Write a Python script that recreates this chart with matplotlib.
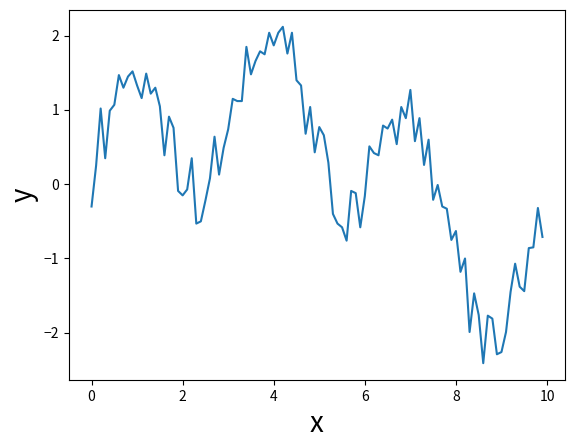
import numpy as np
import matplotlib
matplotlib.use("Agg")
import matplotlib.pyplot as plt

plt.rcParams['font.family'] = ['Noto Sans CJK JP', 'DejaVu Sans']

# x in steps of 0.1
x = np.arange(100) / 10

y = [-0.30, 0.25, 1.02, 0.35, 0.99, 1.07, 1.47, 1.30, 1.45, 1.52,
     1.33, 1.16, 1.49, 1.22, 1.30, 1.05, 0.39, 0.91, 0.76, -0.09,
     -0.15, -0.07, 0.35, -0.53, -0.50, -0.22, 0.08, 0.64, 0.13, 0.49,
     0.74, 1.15, 1.12, 1.12, 1.85, 1.48, 1.66, 1.79, 1.75, 2.04,
     1.87, 2.04, 2.12, 1.76, 2.04, 1.40, 1.33, 0.68, 1.04, 0.43,
     0.77, 0.66, 0.29, -0.40, -0.53, -0.58, -0.76, -0.09, -0.12, -0.58,
     -0.16, 0.51, 0.42, 0.39, 0.79, 0.75, 0.87, 0.54, 1.04, 0.89,
     1.27, 0.58, 0.89, 0.26, 0.60, -0.21, -0.01, -0.30, -0.33, -0.75,
     -0.63, -1.18, -1.00, -1.99, -1.47, -1.76, -2.41, -1.77, -1.81, -2.29,
     -2.26, -1.99, -1.45, -1.07, -1.38, -1.44, -0.86, -0.85, -0.32, -0.71]

fig = plt.figure(figsize=(5.75, 4.43), dpi=100)
ax = fig.add_axes([69 / 575, 63 / 443, 496 / 575, 370 / 443])

ax.plot(x, y)
ax.set_xlabel("x", fontsize=20)
ax.set_ylabel("y", fontsize=20)

fig.savefig("out.png", dpi=100)
